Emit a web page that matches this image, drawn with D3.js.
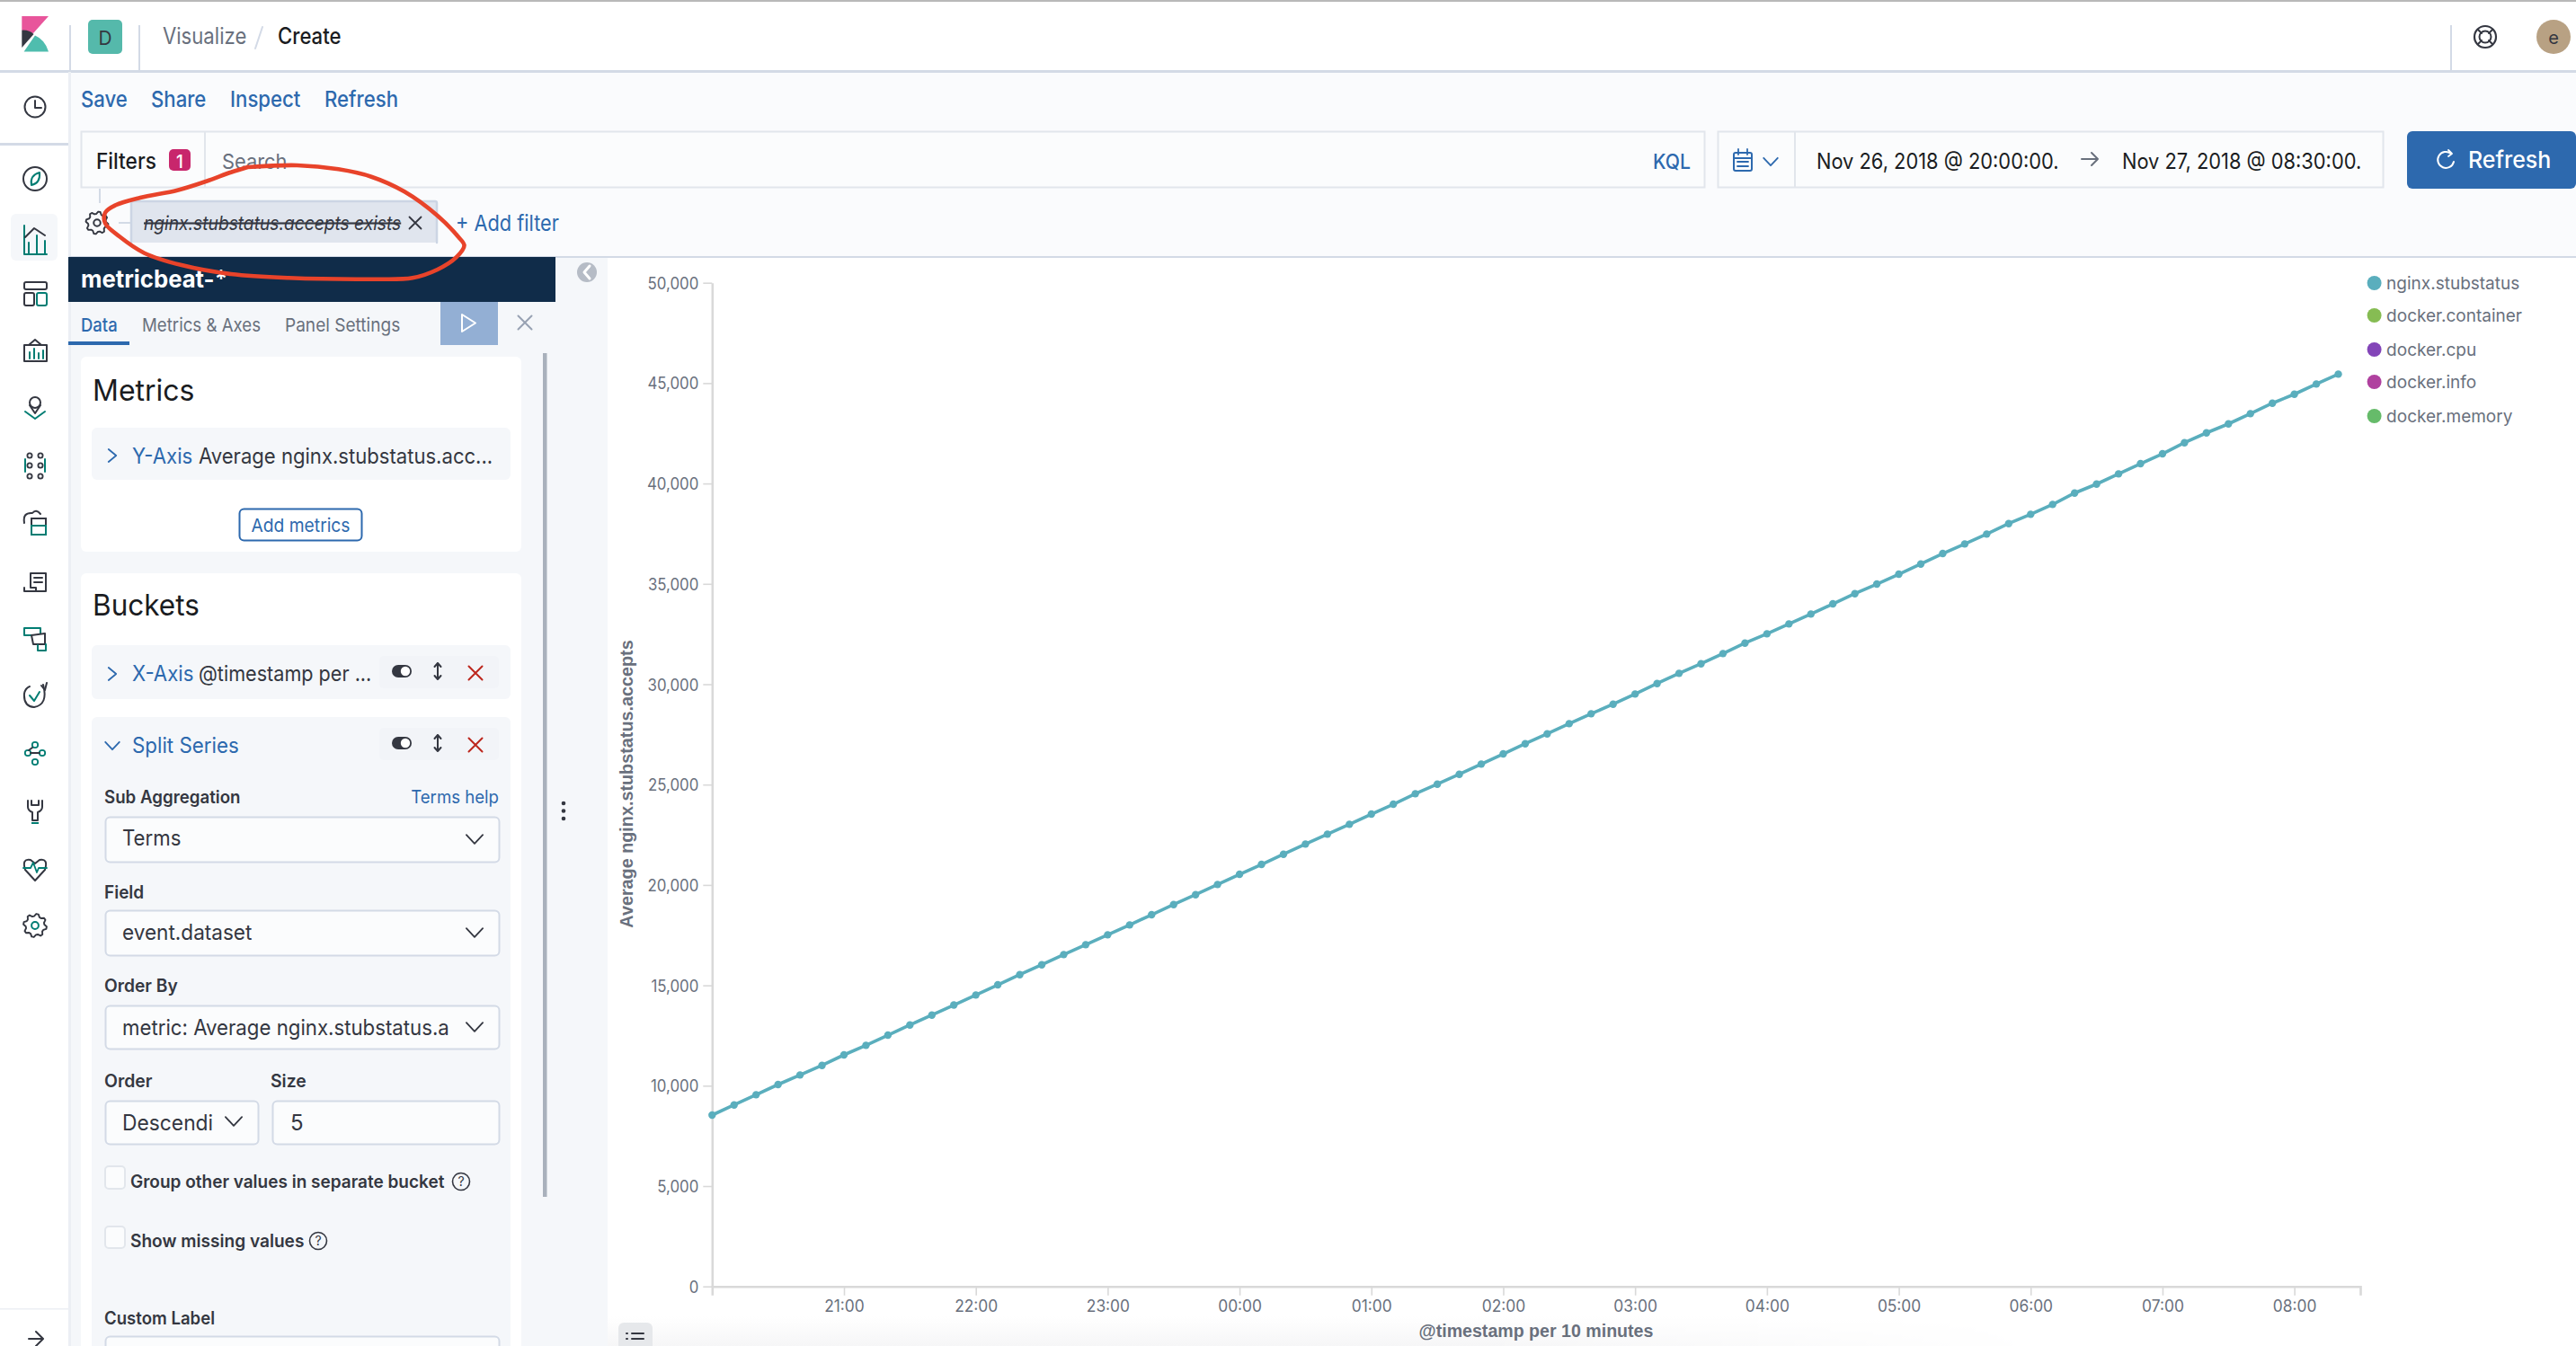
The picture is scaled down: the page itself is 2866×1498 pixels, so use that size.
<!DOCTYPE html>
<html><head><meta charset="utf-8">
<style>html,body{margin:0;padding:0;background:#fff;overflow:hidden}svg{display:block}text{font-family:Inter,"Noto Sans",sans-serif}</style>
<script src="https://cdn.jsdelivr.net/npm/d3@7/dist/d3.min.js"></script></head><body>
<div id="c"></div>
<script>
// ---- chart data ----
const seriesNames = ["nginx.stubstatus","docker.container","docker.cpu","docker.info","docker.memory"];
const seriesColors = ["#5aaebd","#86bc53","#8345b8","#b0419f","#66bb6a"];
const bucketMinutes = 10;
const accepts = [8536,9043,9550,10058,10535,11012,11535,12012,12519,13027,13519,14019,14519,15026,15533,16025,16533,17025,17518,18010,18517,19024,19517,20024,20531,21024,21531,22038,22531,23023,23530,24023,24545,25022,25515,26022,26529,27036,27529,28036,28529,29006,29513,30036,30543,31020,31528,32050,32512,33005,33497,34004,34511,34989,35481,35988,36511,36988,37481,38003,38465,38958,39524,39972,40480,40987,41479,42031,42523,42971,43479,44000,44448,44956,45448];
const yTicks = [0,5000,10000,15000,20000,25000,30000,35000,40000,45000,50000];
const xTickHours = [21,22,23,24,25,26,27,28,29,30,31,32];

const W=2866,H=1498;
const BLUE="#2d69ae",INK="#343741",TEAL="#017d73",GREY="#69707d",LINE="#d3dae6",PANEL="#f5f7fa";
const svg=d3.select("#c").append("svg").attr("width",W).attr("height",H).attr("viewBox",`0 0 ${W} ${H}`);
const squeeze=(node,k)=>{const n=node.getComputedTextLength();node.setAttribute("textLength",(n*k).toFixed(1));node.setAttribute("lengthAdjust","spacingAndGlyphs");};
const rect=(x,y,w,h,f,o={})=>{const r=svg.append("rect").attr("x",x).attr("y",y).attr("width",w).attr("height",h).attr("fill",f);for(const k in o)r.attr(k,o[k]);return r;};
const txt=(s,x,y,size,fill,o={},k=.92)=>{const t=svg.append("text").attr("x",x).attr("y",y+1.5).attr("font-size",size).attr("fill",fill).text(s);for(const a in o)t.attr(a,o[a]);squeeze(t.node(),k);return t;};
const path=(d,stroke,sw=2,fill="none",par=svg)=>par.append("path").attr("d",d).attr("stroke",stroke).attr("stroke-width",sw).attr("fill",fill).attr("stroke-linecap","round").attr("stroke-linejoin","round");
const circ=(x,y,r,stroke,sw=2,fill="none")=>svg.append("circle").attr("cx",x).attr("cy",y).attr("r",r).attr("stroke",stroke).attr("stroke-width",sw).attr("fill",fill);
const chev=(x,y,dir,c=INK,s=7)=>{ if(dir==="down")path(`M${x-s*1.3},${y-s*.7}L${x},${y+s*.7}L${x+s*1.3},${y-s*.7}`,c,1.8); else path(`M${x-s*.6},${y-s}L${x+s*.6},${y}L${x-s*.6},${y+s}`,c,1.8);};
const cross=(x,y,s,c,sw=2)=>path(`M${x-s},${y-s}L${x+s},${y+s}M${x+s},${y-s}L${x-s},${y+s}`,c,sw);
const gear=(cx,cy,r,c,inner)=>{
  const pts=d3.range(32).map(i=>{const a=i/32*2*Math.PI,R=i%4<2?r:r*.8;return [cx+R*Math.cos(a+.1),cy+R*Math.sin(a+.1)];});
  path(d3.line().curve(d3.curveLinearClosed)(pts),c,1.9);
  circ(cx,cy,r*.3,inner,2);
};

// ---- page backgrounds ----
rect(0,0,W,H,"#ffffff");
rect(77,80,W-77,206,"#fafbfd");
rect(0,0,W,2,"#b9b9b9");
rect(0,78,W,3,LINE);
rect(0,159,76,3,LINE);
rect(76,80,3,H-80,"#eceff4");
rect(77,28,2,50,LINE); rect(154,28,2,50,LINE); rect(2726,28,2,50,LINE);
rect(77,285,W-77,2.5,LINE);
rect(79,336,539,H-336,PANEL);
rect(618,287,58,H-287,PANEL);

// ---- header ----
path("M24.3,18H54L37,37L24.3,33.5Z","none",0,"#e8559b");
path("M24.3,33.5Q33,33 37.5,38L24.3,53Z","none",0,"#343741");
path("M26.6,57.5H54Q50,44 39,39.5Z","none",0,"#4fbdae");
rect(98,22,38,38,"#55b9ab",{rx:5});
txt("D",117,48,22,INK,{"text-anchor":"middle"},.95);
txt("Visualize",181,47,25,GREY,{},.885);
path("M292,30L284,54",LINE,2);
txt("Create",309,47,25,"#1a1c21",{"font-weight":500},.885);
circ(2765,41,12,INK,2.2); circ(2765,41,6.5,INK,2);
path("M2757,33L2761,37M2773,33L2769,37M2757,49L2761,45M2773,49L2769,45",INK,2);
svg.append("circle").attr("cx",2841).attr("cy",41).attr("r",19).attr("fill","#b8a183");
txt("e",2841,47,20,INK,{"text-anchor":"middle"},1);

// ---- top nav ----
[["Save",90],["Share",168],["Inspect",256],["Refresh",361]].forEach(d=>txt(d[0],d[1],117,24.5,BLUE,{"font-weight":500},.905));

// ---- query bar ----
rect(90.5,146.5,1806,62,"#fbfcfd",{stroke:"#e2e6ec","stroke-width":2});
rect(227,147,2,61,"#e2e6ec");
txt("Filters",107,186,24.5,"#1a1c21",{"font-weight":500},.925);
rect(188,166,24,24,"#c8266c",{rx:5});
txt("1",200,185,20,"#fff",{"text-anchor":"middle","font-weight":500},.95);
txt("Search",247,186,23,GREY,{},.95);
txt("KQL",1839,186,23,BLUE,{"font-weight":500},.92);
rect(1911.5,146.5,740,62,"#fbfcfd",{stroke:"#e2e6ec","stroke-width":2});
rect(1996,147,2,61,"#e2e6ec");
rect(1929,170,20,20,"none",{stroke:BLUE,"stroke-width":2,rx:2});
path("M1929,176H1949M1934,166V172M1944,166V172M1933,180H1945M1933,185H1945",BLUE,1.8);
chev(1970,180,"down",BLUE,6);
txt("Nov 26, 2018 @ 20:00:00.",2021,186,24,"#1a1c21",{},.91);
path("M2316,177H2334M2327,170L2334,177L2327,184",GREY,2);
txt("Nov 27, 2018 @ 08:30:00.",2361,186,24,"#1a1c21",{},.91);
rect(2678,146,188,64,BLUE,{rx:6});
path("M2727,171A9,9 0 1 0 2730,180","#fff",2);
path("M2724,167L2728,171L2724,174","#fff",1.8);
txt("Refresh",2746,185,26,"#fff",{"font-weight":500},.96);

// ---- filter row ----
rect(110,210,2,16,LINE);
rect(132,247,14,2,LINE);
gear(108,248,12.5,INK,INK);
rect(145,223,341,47,"#e0e5ee",{rx:3});
path("M146,270V226Q146,224 148,224H484Q486,224 486,226V270","#ccd5e4",2.5);
txt("nginx.stubstatus.accepts exists",160,254,21.4,INK,{"font-style":"italic","text-decoration":"line-through"},.897);
cross(462,248,6.5,INK,1.8);
txt("+ Add filter",507,255,24.5,BLUE,{},.887);

// ---- editor header ----
rect(76,286,542,50,"#102c49");
txt("metricbeat-*",90,318,26.5,"#fff",{"font-weight":700},.97);
txt("Data",90,367,20.5,BLUE,{"font-weight":500},.9);
txt("Metrics & Axes",158,367,20.5,GREY,{},.91);
txt("Panel Settings",317,367,20.5,GREY,{},.93);
rect(76,380,68,4,BLUE);
rect(490,336,64,48,"#93afd4");
path("M514,350V369L529,359.5Z","#fff",2);
cross(584,359,7.5,"#98a2b3",2);
svg.append("circle").attr("cx",653).attr("cy",303).attr("r",11).attr("fill","#b6bcc6");
path("M656,296L650,303L656,310","#fff",3);

// ---- Metrics card ----
rect(90,397,490,217,"#fff",{rx:6});
txt("Metrics",103,444,33,"#1a1c21",{},.97);
rect(102,476,466,58,PANEL,{rx:6});
chev(125,507,"right",BLUE);
txt("Y-Axis",147,514,24,BLUE,{},.925);
txt("Average nginx.stubstatus.acc...",221,514,24,INK,{},.92);
rect(266.5,566.5,136,35,"#fff",{rx:5,stroke:BLUE,"stroke-width":2});
txt("Add metrics",334.5,590,20.5,BLUE,{"text-anchor":"middle"},.94);

// ---- Buckets card ----
rect(90,638,490,H-638+20,"#fff",{rx:6});
txt("Buckets",103,683,33,"#1a1c21",{},.955);
rect(102,718,466,60,PANEL,{rx:6});
rect(102,798,466,H-798+20,PANEL,{rx:6});
chev(125,750,"right",BLUE);
txt("X-Axis",147,756,24,BLUE,{},.925);
txt("@timestamp per ...",221,756,24,INK,{},.9);
chev(125,830,"down",BLUE,6);
txt("Split Series",147,836,24,BLUE,{},.93);
[[730,747],[810,827]].forEach(([top,cy])=>{
  rect(422,top,133,36,"#f2f4f8",{rx:5});
  rect(436,cy-7,22,14,INK,{rx:7});
  svg.append("circle").attr("cx",451).attr("cy",cy).attr("r",5.2).attr("fill","#fff");
  path(`M487,${cy-9}V${cy+9}M483.5,${cy-5}L487,${cy-9}L490.5,${cy-5}M483.5,${cy+5}L487,${cy+9}L490.5,${cy+5}`,INK,2);
  cross(529,cy+2,7.5,"#bd271e",2);
});
const boldLabel=(s,x,y,k=.95)=>txt(s,x,y,20,INK,{"font-weight":600},k);
boldLabel("Sub Aggregation",116,892,.935);
txt("Terms help",555,892,20,BLUE,{"text-anchor":"end"},.93);
const box=(x,y,w,h)=>rect(x+.5,y+.5,w,h,"#fbfcfd",{rx:5,stroke:LINE,"stroke-width":2});
box(117,909,438,50); txt("Terms",136,939,24,INK,{},.925); chev(528,934,"down");
boldLabel("Field",116,998);
box(117,1013,438,50); txt("event.dataset",136,1044,24,INK,{},.94); chev(528,1038,"down");
boldLabel("Order By",116,1102,.96);
box(117,1119,438,48); txt("metric: Average nginx.stubstatus.a",136,1150,24,INK,{},.926); chev(528,1143,"down");
boldLabel("Order",116,1208,.97); boldLabel("Size",301,1208,.97);
box(117,1225,170,48); txt("Descendi",136,1256,24,INK,{},.95); chev(260,1248,"down");
box(303,1225,252,48); txt("5",323,1256,24,INK,{},1);
rect(117,1298,22,25,"#fbfcfd",{rx:4,stroke:"#e2e6ec","stroke-width":2});
boldLabel("Group other values in separate bucket",145,1320);
rect(117,1365,22,24,"#fbfcfd",{rx:4,stroke:"#e2e6ec","stroke-width":2});
boldLabel("Show missing values",145,1386,.955);
[[513,1315],[354,1381]].forEach(([x,y])=>{circ(x,y,9.5,INK,1.6); txt("?",x,y+3.5,14,INK,{"text-anchor":"middle"},1);});
boldLabel("Custom Label",116,1472,.93);
box(117,1487,438,40);
rect(604,393,4.5,939,"#a9b1bc");
[894,902.5,911].forEach(y=>svg.append("circle").attr("cx",627).attr("cy",y).attr("r",2.3).attr("fill",INK));

// ---- side nav icons ----
rect(12,238,52,52,PANEL,{rx:6});
const T=TEAL;
circ(39,119,11.5,INK,2); path("M39,112V120H46",INK,2);
circ(39,199,13,INK,2); path("M44,192Q33,195 35,206Q45,204 44,192Z",T,2);
path("M27,251V283H52M32,282V270M41,282V262M50,282V268",T,2); path("M28,264L38,254L50,262",INK,2);
rect(27,314,25,8,"none",{stroke:INK,"stroke-width":2,rx:2}); rect(27,326,11,14,"none",{stroke:INK,"stroke-width":2,rx:2}); rect(41,326,11,14,"none",{stroke:T,"stroke-width":2,rx:2});
path("M27,384H52V402H27Z",INK,2); path("M33,399V392M38,399V388M43,399V393M48,399V390",T,2); path("M32,384L39,378L46,384",INK,2);
circ(39,448,6,INK,2); path("M33,451L39,460L45,451",INK,2); path("M28,458L39,466L50,458",T,2);
[[33,507],[45,507],[33,518],[45,518],[33,530],[45,530]].forEach(d=>circ(d[0],d[1],2.6,INK,1.8)); path("M28,511V525M50,511V525",T,2);
path("M27,582Q25,570 36,571Q40,566 45,572",INK,2); rect(35,577,16,8,"none",{stroke:INK,"stroke-width":2}); rect(35,585,16,10,"none",{stroke:T,"stroke-width":2});
path("M34,638H51V658H27V654M34,638V654H40V658M38,643H47M38,648H47",INK,2);
path("M27,699H45V705M27,699V707H35",T,2); path("M35,707L50,705V717H37Z",INK,2); path("M42,724H51V717M42,724V718",T,2);
path("M46,763L50,768L52,760",INK,2); path("M48,762Q54,784 38,787Q26,786 27,772Q28,766 33,764",INK,2); path("M33,774L38,780L44,770",T,2);
[[39,829],[39,848],[47,838],[31,838]].forEach(d=>circ(d[0],d[1],3.2,T,1.8)); path("M34,838H44M36,832L32,835",INK,2);
path("M31,891V898Q31,902 36,904V913H42V904Q47,902 47,898V891M35,891V896H43V891",INK,2); rect(35,915,8,2,T);
path("M39,980L28,968Q24,955 34,957L39,961L44,957Q54,955 50,968Z",INK,2); path("M26,966H34L37,960L41,971L43,966H52",T,1.8);
gear(39,1030,13,INK,T);
rect(0,1457,76,H-1457,"#fff"); rect(0,1456,76,1.5,"#eceff4");
path("M32,1490H47M40,1482L48,1490L40,1498",INK,2);

// ---- chart area ----
rect(676,287,W-676,H-287,"#ffffff");
const defs=svg.append("defs");
const grad=defs.append("linearGradient").attr("id","fade").attr("x1",0).attr("x2",0).attr("y1",0).attr("y2",1);
grad.append("stop").attr("offset",0).attr("stop-color","#ffffff");
grad.append("stop").attr("offset",1).attr("stop-color","#f6f6f7");
const fadeH=defs.append("linearGradient").attr("id","fadeH").attr("x1",0).attr("x2",1).attr("y1",0).attr("y2",0);
fadeH.append("stop").attr("offset",.6).attr("stop-color","#fff");
fadeH.append("stop").attr("offset",1).attr("stop-color","#000");
defs.append("mask").attr("id","fadeM").append("rect").attr("x",676).attr("y",1465).attr("width",1600).attr("height",33).attr("fill","url(#fadeH)");
rect(676,1465,1600,33,"url(#fade)",{mask:"url(#fadeM)"});
rect(688,1472,38,40,"#e6e8eb",{rx:6});
path("M697,1484H698M703,1484H716M697,1490H698M703,1490H716",INK,2);

const t0=Date.UTC(2018,10,26,20),t1=Date.UTC(2018,10,27,8,30);
const x=d3.scaleUtc().domain([t0,t1]).range([792.3,2626]);
const y=d3.scaleLinear().domain([0,50000]).range([1431.7,314.7]);
const AX="#d9d9d9",TICK="#69707d";
const xTicks=xTickHours.map(h=>t0+(h-20)*3600e3);
const gx=svg.append("g").attr("transform",`translate(0,${y(0)})`).call(d3.axisBottom(x).tickValues(xTicks).tickSizeInner(10).tickSizeOuter(10).tickPadding(6).tickFormat(d3.utcFormat("%H:%M")));
const gy=svg.append("g").attr("transform",`translate(${x(t0)},0)`).call(d3.axisLeft(y).tickValues(yTicks).tickSizeInner(10).tickSizeOuter(0).tickPadding(5).tickFormat(d3.format(",")));
[gx,gy].forEach(g=>{
  g.attr("font-family",null).attr("font-size",null);
  g.select(".domain").attr("stroke",AX).attr("stroke-width",2.6);
  g.selectAll(".tick line").attr("stroke",AX).attr("stroke-width",1.6);
  g.selectAll("text").attr("fill",TICK).attr("font-size",18.3).attr("font-family","Inter");
});
gx.selectAll("text").attr("dy",null).attr("y",28.5).each(function(){squeeze(this,.95);});
gy.selectAll("text").attr("dy","0.36em").each(function(){squeeze(this,.92);});

txt("Average nginx.stubstatus.accepts",0,0,19.8,GREY,{"font-weight":700,"text-anchor":"middle",transform:"translate(702,872.5) rotate(-90)",style:"font-family:'Liberation Sans'"},1);
txt("@timestamp per 10 minutes",1709,1486,19.6,GREY,{"font-weight":700,"text-anchor":"middle",style:"font-family:'Liberation Sans'"},1);

const pts=accepts.map((v,i)=>({t:t0+i*bucketMinutes*60e3,v}));
const lineGen=d3.line().x(d=>x(d.t)).y(d=>y(d.v));
svg.append("path").datum(pts).attr("d",lineGen).attr("fill","none").attr("stroke",seriesColors[0]).attr("stroke-width",3.6);
svg.append("g").selectAll("circle").data(pts).join("circle").attr("cx",d=>x(d.t)).attr("cy",d=>y(d.v)).attr("r",4.2).attr("fill",seriesColors[0]);

// ---- legend ----
const legendY=[315,351,389,425,463];
const lg=svg.append("g").selectAll("g").data(seriesNames).join("g").attr("transform",(d,i)=>`translate(2641.6,${legendY[i]})`);
lg.append("circle").attr("r",8).attr("fill",(d,i)=>seriesColors[i]);
lg.append("text").attr("x",13.5).attr("y",6.5).attr("font-size",19).attr("fill",GREY).text(d=>d);

// ---- hand-drawn red annotation ----
const scribble=[[275.5,186],[330.6,184],[376.5,188.3],[413.2,196.7],[450,213.3],[486.7,240],[509.6,263.3],[516.5,273.3],[507.3,286.7],[486.7,300],[459,309.3],[413.2,310.7],[321.4,309.3],[257,305],[202,295],[160.7,281.7],[133,263.3],[117,248.3],[117,236.7],[128.6,228.3],[156,220],[197.4,211.7],[229.6,201.7],[257,191.7],[275.5,186]];
path(d3.line().curve(d3.curveCatmullRom)(scribble),"#e8432a",4.6);
</script></body></html>
